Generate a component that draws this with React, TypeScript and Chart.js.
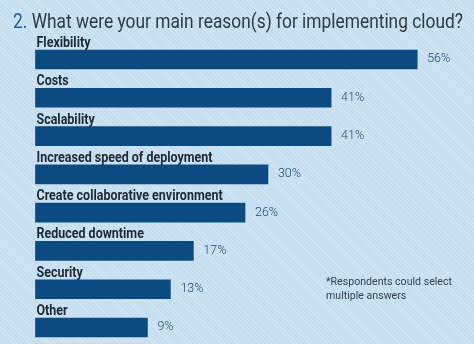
import React, { useEffect, useRef } from "react";
import { Chart, registerables } from "chart.js";

Chart.register(...registerables);

const title = "2. What were your main reason(s) for implementing cloud?";
const categories = [
  "Flexibility",
  "Costs",
  "Scalability",
  "Increased speed of deployment",
  "Create collaborative environment",
  "Reduced downtime",
  "Security",
  "Other",
];
const values = [56, 41, 41, 30, 26, 17, 13, 9];
const valueLabels = ["56%", "41%", "41%", "30%", "26%", "17%", "13%", "9%"];
const footnote = ["*Respondents could select", "multiple answers"];

const AXIS_MIN = -10.5;
const AXIS_MAX = 64.5;
const FONT = "Roboto, 'Noto Sans', sans-serif";

function drawText(ctx: CanvasRenderingContext2D, text: string, x: number, y: number, sx: number) {
  ctx.save();
  ctx.translate(x, y);
  ctx.scale(sx, 1);
  ctx.fillText(text, 0, 0);
  ctx.restore();
}

const textPlugin = {
  id: "infographicText",
  afterDatasetsDraw(chart: any) {
    const ctx = chart.ctx as CanvasRenderingContext2D;
    const meta = chart.getDatasetMeta(0);
    ctx.save();
    ctx.textAlign = "left";

    // title, condensed to the reference's width
    ctx.textBaseline = "alphabetic";
    ctx.font = `21px ${FONT}`;
    const tsx = 450 / ctx.measureText(title).width;
    const num = title.slice(0, 2);
    const rest = title.slice(2);
    ctx.fillStyle = "#1d5d98";
    drawText(ctx, num, 13, 27.5, tsx);
    const w = ctx.measureText(num).width * tsx;
    ctx.fillStyle = "#2f3942";
    drawText(ctx, rest, 13 + w, 27.5, tsx);

    ctx.font = `bold 14px ${FONT}`;
    const csx = 176 / ctx.measureText(categories[3]).width;
    ctx.font = `300 13.5px ${FONT}`;
    const psx = 23 / ctx.measureText(valueLabels[0]).width;

    meta.data.forEach((bar: any, i: number) => {
      const p = bar.getProps(["x", "y", "base"], true);
      ctx.font = `bold 14px ${FONT}`;
      ctx.fillStyle = "#1c2833";
      ctx.textBaseline = "alphabetic";
      drawText(ctx, categories[i], p.base + 1, p.y - 12.5, csx);
      ctx.font = `300 13.5px ${FONT}`;
      ctx.fillStyle = "#244a6e";
      ctx.textBaseline = "middle";
      drawText(ctx, valueLabels[i], p.x + 10, p.y - 0.5, psx);
    });

    ctx.font = `11.5px ${FONT}`;
    const fsx = 126 / ctx.measureText(footnote[0]).width;
    ctx.fillStyle = "#33404c";
    ctx.textBaseline = "middle";
    footnote.forEach((line, i) => drawText(ctx, line, 326, 282 + i * 14.5, fsx));
    ctx.restore();
  },
};

export default function App() {
  const ref = useRef<HTMLCanvasElement | null>(null);
  useEffect(() => {
    document.body.style.margin = "0";
    const canvas = ref.current!;
    const chart = new Chart(canvas, {
      type: "bar",
      data: {
        labels: categories,
        datasets: [
          {
            data: values,
            backgroundColor: "#0c4a82",
            borderWidth: 0,
            barThickness: 19,
            base: AXIS_MIN,
            clip: false as any,
          } as any,
        ],
      },
      options: {
        indexAxis: "y",
        responsive: false,
        animation: false,
        devicePixelRatio: 1,
        layout: { padding: { left: 35.5, right: 8, top: 59.5, bottom: 16.5 } },
        plugins: { legend: { display: false }, tooltip: { enabled: false }, title: { display: false } },
        scales: {
          x: { type: "linear", min: AXIS_MIN, max: AXIS_MAX, display: false },
          y: { type: "category", offset: false, display: false },
        },
      },
      plugins: [textPlugin],
    });
    return () => chart.destroy();
  }, []);
  return (
    <div
      style={{
        position: "relative",
        width: 474,
        height: 344,
        overflow: "hidden",
        backgroundColor: "#c4def0",
        backgroundImage:
          "repeating-linear-gradient(45deg, rgba(255,255,255,0.22) 0px, rgba(255,255,255,0.22) 1px, rgba(0,0,0,0) 1px, rgba(0,0,0,0) 3px)",
      }}
    >
      <canvas ref={ref} width={474} height={344} style={{ display: "block" }} />
    </div>
  );
}
